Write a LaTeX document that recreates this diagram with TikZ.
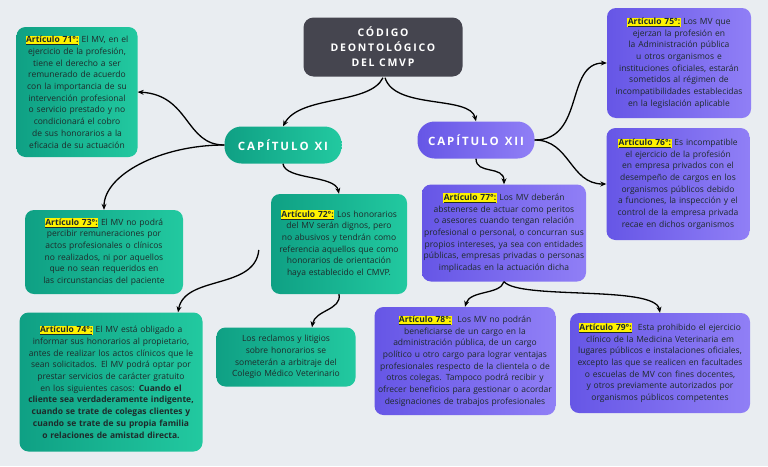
\documentclass[tikz,border=0pt]{standalone}
\usepackage{fontspec}
\setmainfont{Open Sans}
\usetikzlibrary{arrows.meta,calc}
\hyphenpenalty=10000
\exhyphenpenalty=10000
\definecolor{bg}{HTML}{E9EDF1}
\definecolor{gA}{HTML}{0FA084}
\definecolor{gB}{HTML}{22C9A0}
\definecolor{pA}{HTML}{6656E6}
\definecolor{pB}{HTML}{907FF6}
\definecolor{ttl}{HTML}{45454F}
\definecolor{txt}{HTML}{1E2B2B}
\newcommand{\art}[1]{{\setlength{\fboxsep}{0.4pt}\colorbox{yellow}{\textbf{\underline{Artículo #1°:}}}}}
\tikzset{
 x=1pt,y=-1pt,
 txtbox/.style={rounded corners=9pt,align=center,inner sep=0.5pt,text=txt,font=\fontsize{8.5}{11.7}\selectfont},
 gbox/.style={txtbox,left color=gA,right color=gB},
 pbox/.style={txtbox,left color=pA,right color=pB},
 link/.style={draw=black,line width=1.3pt,-{Stealth[length=6pt,width=5pt]}}
}
\begin{document}
\begin{tikzpicture}
\fill[bg] (0,0) rectangle (768,466);
\useasboundingbox (0,0) rectangle (768,466);
% title
\node[fill=ttl,rounded corners=10pt,minimum width=159pt,minimum height=59pt,align=center,text=white,font=\fontsize{10.5}{15}\selectfont\bfseries] (t) at (383,47) {C\,Ó\,D\,I\,G\,O\\D\,E\,O\,N\,T\,O\,L\,Ó\,G\,I\,C\,O\\D\,E\,L\ \,C\,M\,V\,P};
\node[left color=gA,right color=gB,rounded corners=17pt,minimum width=117pt,minimum height=37pt,text=white,font=\fontsize{11.5}{13}\selectfont\bfseries] (c11) at (283,145) {C\,A\,P\,Í\,T\,U\,L\,O\ \ X\,I};
\node[left color=pA,right color=pB,rounded corners=17pt,minimum width=117pt,minimum height=37pt,text=white,font=\fontsize{11.5}{13}\selectfont\bfseries] (c12) at (476,140) {C\,A\,P\,Í\,T\,U\,L\,O\ \ X\,I\,I};
% green boxes
\node[gbox,minimum width=121pt,minimum height=130pt,text width=116pt] (a71) at (77,92) {\art{71} El MV, en el ejercicio de la profesión, tiene el derecho a ser remunerado de acuerdo con la importancia de su intervención profesional o servicio prestado y no condicionará el cobro de sus honorarios a la eficacia de su actuación};
\node[gbox,minimum width=158pt,minimum height=84pt,text width=150pt] (a73) at (104,252) {\art{73} El MV no podrá percibir remuneraciones por actos profesionales o clínicos no realizados, ni por aquellos que no sean requeridos en las circunstancias del paciente};
\node[gbox,minimum width=136pt,minimum height=100pt,text width=130pt] (a72) at (339,244) {\art{72} Los honorarios del MV serán dignos, pero no abusivos y tendrán como referencia aquellos que como honorarios de orientación haya establecido el CMVP.};
\node[gbox,minimum width=183pt,minimum height=139pt,text width=180pt] (a74) at (111,382) {\art{74} El MV está obligado a informar sus honorarios al propietario, antes de realizar los actos clínicos que le sean solicitados. El MV podrá optar por prestar servicios de carácter gratuito en los siguientes casos: \textbf{Cuando el cliente sea verdaderamente indigente, cuando se trate de colegas clientes y cuando se trate de su propia familia o relaciones de amistad directa.}};
\node[gbox,minimum width=139pt,minimum height=59pt,text width=125pt] (rec) at (286,357) {Los reclamos y litigios sobre honorarios se someterán a arbitraje del Colegio Médico Veterinario};
% purple boxes
\node[pbox,minimum width=144pt,minimum height=110pt,text width=128pt] (a75) at (679,63) {\art{75} Los MV que ejerzan la profesión en la Administración pública u otros organismos e instituciones oficiales, estarán sometidos al régimen de incompatibilidades establecidas en la legislación aplicable};
\node[pbox,minimum width=143pt,minimum height=112pt,text width=139pt] (a76) at (678,184) {\art{76} Es incompatible el ejercicio de la profesión en empresa privados con el desempeño de cargos en los organismos públicos debido a funciones, la inspección y el control de la empresa privada recae en dichos organismos};
\node[pbox,minimum width=164pt,minimum height=97pt,text width=162pt] (a77) at (504,233) {\art{77} Los MV deberán abstenerse de actuar como peritos o asesores cuando tengan relación profesional o personal, o concurran sus propios intereses, ya sea con entidades públicas, empresas privadas o personas implicadas en la actuación dicha};
\node[pbox,minimum width=181pt,minimum height=108pt,text width=180pt] (a78) at (465,361) {\art{78}\ \ Los MV no podrán beneficiarse de un cargo en la administración pública, de un cargo político u otro cargo para lograr ventajas profesionales respecto de la clientela o de otros colegas. Tampoco podrá recibir y ofrecer beneficios para gestionar o acordar designaciones de trabajos profesionales};
\node[pbox,minimum width=180pt,minimum height=100pt,text width=176pt] (a79) at (660,363) {\art{79}\ \ Esta prohibido el ejercicio clínico de la Medicina Veterinaria em lugares públicos e instalaciones oficiales, excepto las que se realicen en facultades o escuelas de MV con fines docentes, y otros previamente autorizados por organismos públicos competentes};
% connectors
\coordinate (s74) at ($(a72.west)+(-12,6)$);
\draw[link] ($(t.south)+(0,1)$) .. controls (370,105) and (300,95) .. (c11.north);
\draw[link] ($(t.south)+(2,1)$) .. controls (395,110) and (470,95) .. (c12.north);
\draw[link] (c11.west) .. controls (185,145) and (190,95) .. (a71.east);
\draw[link] (c11.west) .. controls (160,145) and (104,175) .. (a73.north);
\draw[link] (c11.south) .. controls (285,180) and (335,175) .. (a72.north);
\draw[link] (s74) .. controls (255,290) and (185,275) .. (a74.north -| 178,0);
\draw[link] (a72.south) .. controls (342,310) and (315,310) .. (rec.north -| 312,0);
\draw[link] (c12.east) .. controls (585,140) and (565,63) .. (a75.west);
\draw[link] (c12.east) .. controls (570,140) and (570,184) .. (a76.west);
\draw[link] (c12.south) .. controls (476,175) and (504,165) .. (a77.north);
\draw[link] (a77.south) .. controls (500,295) and (470,290) .. (a78.north);
\draw[link] (a77.south) .. controls (520,300) and (655,285) .. (a79.north);
\end{tikzpicture}
\end{document}
